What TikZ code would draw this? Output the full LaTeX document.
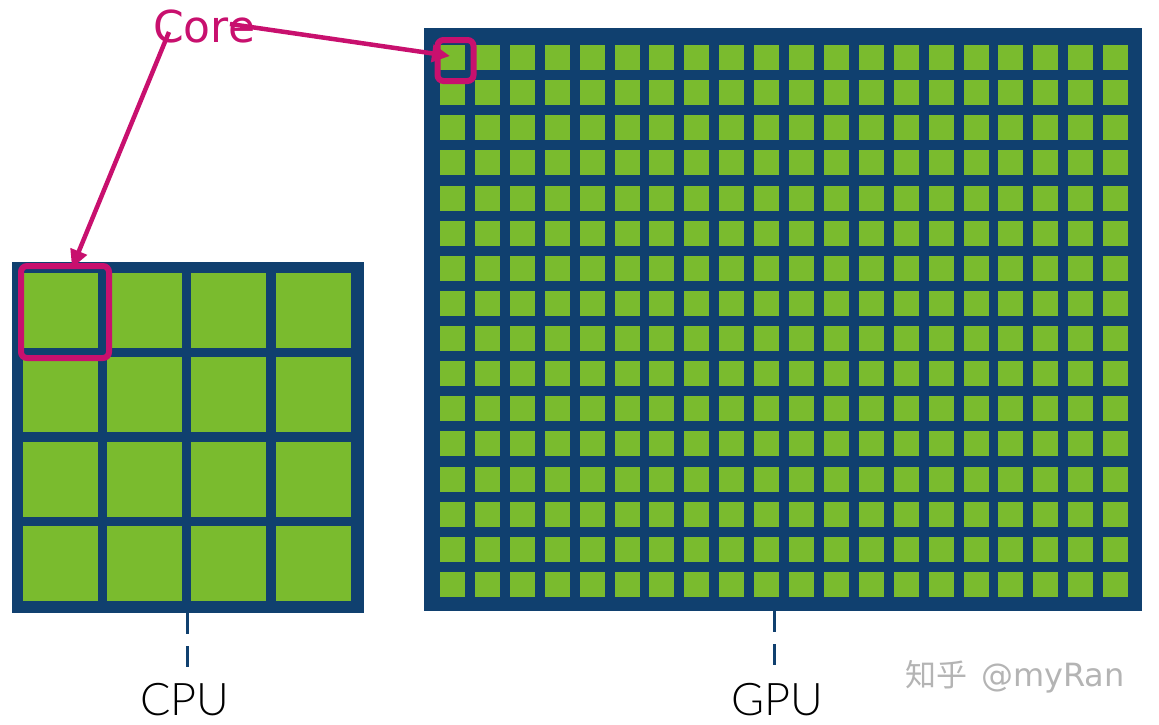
\documentclass[tikz,border=0pt]{standalone}
\usepackage{fontspec}
\setmainfont{Lato}
\newfontfamily\lblfont{Lato}[UprightFont={* Light}]
\newfontfamily\corefont{DejaVu Sans}
\newfontfamily\wmfont{DejaVu Sans}
\newfontfamily\cjk{Noto Sans CJK SC}
\usetikzlibrary{arrows.meta}
\definecolor{navy}{RGB}{16,64,111}
\definecolor{chipgreen}{RGB}{122,187,46}
\definecolor{mag}{RGB}{200,16,110}
\definecolor{wm}{RGB}{180,180,180}
\tikzset{
  chip/.style={fill=navy, draw=none, inner sep=0pt, anchor=north west},
  cell/.style={fill=chipgreen},
  hl/.style={draw=mag, line width=6pt, rounded corners=6pt, inner sep=0pt, anchor=north west},
  pointer/.style={draw=mag, line width=4.5pt, -{Triangle[length=18pt,width=17pt]}},
  tick/.style={draw=navy, line width=3pt, dash pattern=on 21pt off 12pt},
  label/.style={font=\lblfont\fontsize{45}{48}\selectfont, text=black, inner sep=0pt}
}
\begin{document}
\begin{tikzpicture}[x=1pt,y=-1pt]
\useasboundingbox (0,0) rectangle (1159,724);
% CPU
\node[chip, minimum width=352pt, minimum height=351pt] (cpu) at (12,262) {};
\foreach \i in {0,...,3}{
  \foreach \j in {0,...,3}{
    \fill[cell] ({23+84.2*\i},{273+84.3*\j}) rectangle ++(75,75);
  }
}
% GPU
\node[chip, minimum width=718pt, minimum height=583pt] (gpu) at (424,28) {};
\foreach \i in {0,...,19}{
  \foreach \j in {0,...,15}{
    \fill[cell] ({440+34.9*\i},{45+35.13*\j}) rectangle ++(25,25);
  }
}
% highlights
\node[hl, minimum width=88pt, minimum height=92pt] (cpucore) at (18,263) {};
\node[hl, minimum width=36pt, minimum height=41pt] (gpucore) at (434.5,37) {};
% Core label
\node[font=\corefont\fontsize{44}{48}\selectfont, text=mag, inner sep=0pt, anchor=base west] (core) at (153,42) {Core};
\coordinate (c1) at (169,32);
\coordinate (c2) at (230,24);
\coordinate (t1) at (72,268);
\coordinate (t2) at (450,56);
\draw[pointer] (c1) -- (t1);
\draw[pointer] (c2) -- (t2);
% ticks
\coordinate (cputick) at (187,668);
\coordinate (gputick) at (774,668);
\draw[tick] (cpu.south -| cputick) -- (cputick);
\draw[tick] (gpu.south -| gputick) -- (gputick);
\node[label, anchor=base] (cpul) at (185,715) {CPU};
\node[label, anchor=base] (gpul) at (777,715) {GPU};
% watermark
\node[text=wm, inner sep=0pt, anchor=base west, font=\fontsize{31}{34}\selectfont] (wmk) at (905,686) {{\cjk 知乎}\hspace{14pt}{\wmfont\fontsize{32}{34}\selectfont @myRan}};
\end{tikzpicture}
\end{document}
